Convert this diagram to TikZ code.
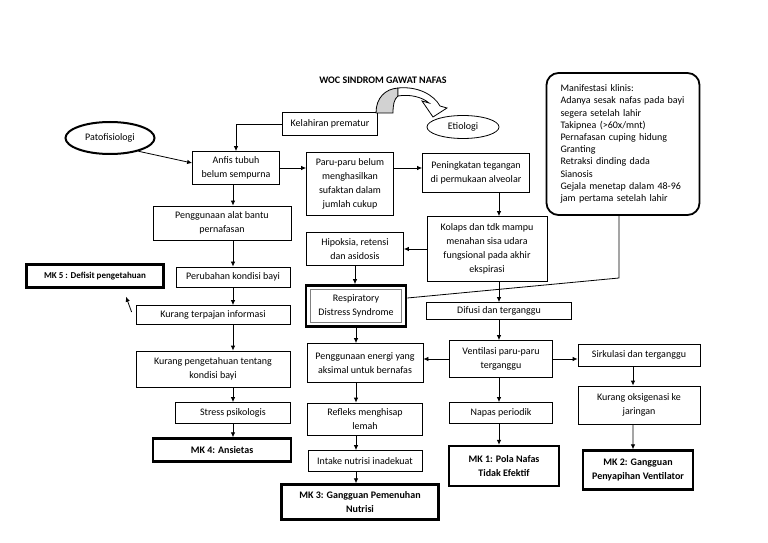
\documentclass[tikz,border=0pt]{standalone}
\usepackage{fontspec}
\setmainfont{Carlito}
\usetikzlibrary{arrows.meta,shapes.geometric}

\begin{document}
\begin{tikzpicture}[x=1bp,y=-1bp,line width=0.8bp,
  >={Latex[length=5bp,width=4.5bp]},
  box/.style={draw,line width=0.8bp,align=center,inner sep=0pt,
    font=\fontsize{10bp}{14bp}\selectfont},
  mk/.style={box,line width=2.4bp,font=\fontsize{10bp}{14bp}\selectfont\bfseries},
  oval/.style={ellipse,draw,inner sep=0pt,font=\fontsize{10bp}{12bp}\selectfont},
  sz/.style 2 args={minimum width=#1bp,minimum height=#2bp}]
  \useasboundingbox (0,0) rectangle (768,543);

  % top row
  \node[font=\fontsize{10bp}{12bp}\selectfont\bfseries] (judul) at (383,80) {WOC SINDROM GAWAT NAFAS};
  \node[oval,line width=2bp,sz={89}{32}] (pato) at (110,138) {Patofisiologi};
  \node[box,sz={95}{23}] (lahir) at (330,124) {Kelahiran prematur};
  \node[oval,sz={72}{23}] (etio) at (463,127) {Etiologi};
  \node[draw,rounded corners=12bp,line width=1.8bp,sz={153}{142},text width=125bp,
    align=left,inner xsep=14bp,inner ysep=0pt,font=\fontsize{10bp}{12.2bp}\selectfont]
    (klinis) at (623,144) {Manifestasi klinis:\\Adanya sesak nafas pada bayi\\segera setelah lahir\\
    Takipnea (>60x/mnt)\\Pernafasan cuping hidung\\Granting\\Retraksi dinding dada\\Sianosis\\
    Gejala menetap dalam 48-96\\jam pertama setelah lahir};

  % curved arrow to Etiologi
  \filldraw[fill=gray!35] (376,113) .. controls (376,98) and (385,89) .. (398,88)
    -- (398,96) .. controls (394,99) and (393,105) .. (393,113) -- cycle;
  \filldraw[fill=white] (398,88) .. controls (418,86) and (434,95) .. (440,106)
    -- (447,108) -- (433,117) -- (422,101) -- (429,103)
    .. controls (422,97) and (410,94) .. (398,96) -- cycle;

  % left column
  \node[box,sz={87}{33}] (anfis) at (236,168) {Anfis tubuh\\belum sempurna};
  \node[box,sz={138}{34}] (alat) at (222,223) {Penggunaan alat bantu\\pernafasan};
  \node[box,sz={114}{20}] (kondisi) at (233,277) {Perubahan kondisi bayi};
  \node[mk,sz={137}{23},font=\fontsize{9bp}{12bp}\selectfont\bfseries] (mk5) at (95,276) {MK 5 : Defisit pengetahuan};
  \node[box,sz={154}{19}] (terpajan) at (213,315) {Kurang terpajan informasi};
  \node[box,sz={154}{36}] (tahu) at (213,369) {Kurang pengetahuan tentang\\kondisi bayi};
  \node[box,sz={115}{21}] (stress) at (233,413) {Stress psikologis};
  \node[mk,sz={138}{23}] (mk4) at (222,450) {MK 4: Ansietas};

  % middle column
  \node[box,sz={87}{63}] (paru) at (350,184) {Paru-paru belum\\menghasilkan\\sufaktan dalam\\jumlah cukup};
  \node[box,sz={97}{33}] (hipoksia) at (355,249) {Hipoksia, retensi\\dan asidosis};
  \node[box,line width=2.6bp,sz={100}{41}] (rds) at (356,306) {Respiratory\\Distress Syndrome};
  \draw[gray,line width=0.7bp] ([shift={(5.5bp,-5.5bp)}]rds.north west)
    rectangle ([shift={(-5.5bp,5.5bp)}]rds.south east);
  \node[box,sz={116}{39}] (energi) at (365,363) {Penggunaan energi yang\\aksimal untuk bernafas};
  \node[box,sz={115}{32}] (refleks) at (365,419) {Refleks menghisap\\lemah};
  \node[box,sz={114}{21}] (intake) at (365,461) {Intake nutrisi inadekuat};
  \node[mk,sz={157}{35}] (mk3) at (360,502) {MK 3: Gangguan Pemenuhan\\Nutrisi};

  % right columns
  \node[box,sz={107}{39}] (tegangan) at (476,173) {Peningkatan tegangan\\di permukaan alveolar};
  \node[box,sz={120}{65}] (kolaps) at (487,249) {Kolaps dan tdk mampu\\menahan sisa udara\\fungsional pada akhir\\ekspirasi};
  \node[box,sz={145}{17}] (difusi) at (499,311) {Difusi dan terganggu};
  \node[box,sz={103}{37}] (ventilasi) at (501,359) {Ventilasi paru-paru\\terganggu};
  \node[box,sz={103}{21}] (napas) at (501,413) {Napas periodik};
  \node[mk,sz={110}{40}] (mk1) at (504,466) {MK 1: Pola Nafas\\Tidak Efektif};
  \node[box,sz={122}{22}] (sirkulasi) at (639,355) {Sirkulasi dan terganggu};
  \node[box,sz={122}{38}] (oksigen) at (639,405) {Kurang oksigenasi ke\\jaringan};
  \node[mk,sz={110}{39}] (mk2) at (638,470) {MK 2: Gangguan\\Penyapihan Ventilator};

  % connectors
  \draw[->] (lahir.west) -| (anfis.north);
  \draw[->] (pato.-25) -- ([yshift=5bp]anfis.west);
  \draw[->] (anfis.east) -- (anfis.east -| paru.west);
  \draw[->] (paru.east |- anfis) -- (tegangan.west |- anfis);
  \draw[->] (difusi.north |- tegangan.south) -- (difusi.north |- kolaps.north);
  \draw[->] (kolaps.west) -- (kolaps.west -| hipoksia.east);
  \draw[->] (hipoksia.south) -- (hipoksia.south |- rds.north);
  \draw[->] (difusi.north |- kolaps.south) -- (difusi.north);
  \draw[->] (difusi.south) -- (difusi.south |- ventilasi.north);
  \draw[->] (ventilasi.west) -- (ventilasi.west -| energi.east);
  \draw[->] (ventilasi.east) -- (ventilasi.east -| sirkulasi.west);
  \draw[->] (difusi.south |- ventilasi.south) -- (difusi.south |- napas.north);
  \draw[->] (difusi.south |- napas.south) -- (difusi.south |- mk1.north);
  \draw[->] ([xshift=-6bp]sirkulasi.south) -- ([xshift=-6bp]oksigen.north);
  \draw[->] ([xshift=-6bp]oksigen.south) -- ([xshift=-5bp]mk2.north);
  \coordinate (knik) at (619,278);
  \draw ([yshift=8bp]rds.east) -- (knik) -- (knik |- klinis.south);

  \draw[->] (rds.south) -- (rds.south |- energi.north);
  \draw[->] (rds.south |- energi.south) -- (rds.south |- refleks.north);
  \draw[->] (rds.south |- refleks.south) -- (rds.south |- intake.north);
  \draw[->] (rds.south |- intake.south) -- (rds.south |- mk3.north);

  \draw[->] (kondisi.north |- anfis.south) -- (kondisi.north |- alat.north);
  \draw[->] (kondisi.north |- alat.south) -- (kondisi.north);
  \draw[->] (kondisi.south) -- (kondisi.south |- terpajan.north);
  \draw[->] (kondisi.south |- terpajan.south) -- (kondisi.south |- tahu.north);
  \draw[->] (kondisi.south |- tahu.south) -- (stress.north);
  \draw[->] (stress.south) -- (stress.south |- mk4.north);
  \draw[->] ([xshift=-4bp,yshift=3bp]terpajan.west) -- ([xshift=31bp,yshift=-8bp]mk5.south);
\end{tikzpicture}
\end{document}
